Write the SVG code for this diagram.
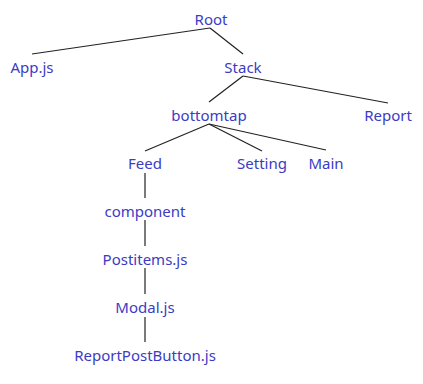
<svg xmlns="http://www.w3.org/2000/svg" width="423" height="384" viewBox="0 0 423 384">
<style>
text{font-family:"Noto Sans","DejaVu Sans",sans-serif;font-size:15px;fill:#3b3bc4;text-anchor:middle}
.e line{stroke:#222;stroke-width:1.2}
</style>
<rect width="423" height="384" fill="#fff"/>
<g class="e" id="connectors">
<line x1="210" y1="28" x2="32" y2="54"/>
<line x1="210" y1="28" x2="243" y2="54"/>
<line x1="243" y1="76" x2="209" y2="102"/>
<line x1="243" y1="76" x2="388" y2="103"/>
<line x1="209" y1="124" x2="145" y2="151"/>
<line x1="209" y1="124" x2="262" y2="151"/>
<line x1="209" y1="124" x2="326" y2="150"/>
<line x1="145" y1="173" x2="145" y2="198"/>
<line x1="145" y1="220" x2="145" y2="246"/>
<line x1="145" y1="268" x2="145" y2="294"/>
<line x1="145" y1="317" x2="145" y2="342"/>
</g>
<g id="root"><text x="211" y="25">Root</text></g>
<g id="appjs"><text x="32" y="73">App.js</text></g>
<g id="stack"><text x="243" y="73">Stack</text></g>
<g id="bottomtap"><text x="209" y="121">bottomtap</text></g>
<g id="report"><text x="388" y="121">Report</text></g>
<g id="feed"><text x="145" y="169">Feed</text></g>
<g id="setting"><text x="262" y="169">Setting</text></g>
<g id="main"><text x="326" y="169">Main</text></g>
<g id="component"><text x="145" y="217">component</text></g>
<g id="postitems"><text x="145" y="265">Postitems.js</text></g>
<g id="modal"><text x="145" y="313">Modal.js</text></g>
<g id="reportpostbutton"><text x="145" y="361">ReportPostButton.js</text></g>
</svg>
